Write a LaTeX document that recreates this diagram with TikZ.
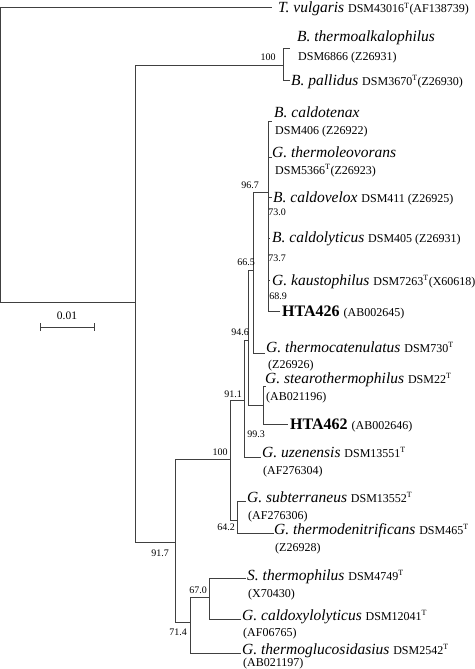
\documentclass[tikz,border=0pt]{standalone}
\usepackage{fontspec}
\setmainfont{Liberation Serif}
\usetikzlibrary{arrows.meta}
\newcommand\Tsup{\textsuperscript{T}}
\newcommand\acc[1]{{\upshape\mdseries\fontsize{12}{14}\selectfont #1}}
\begin{document}
\begin{tikzpicture}[x=1pt,y=-1pt,
  br/.style={draw=black!75,line width=0.9pt},
  sp/.style={anchor=base west,inner sep=0pt,font=\fontsize{15.5}{18}\selectfont\itshape},
  ac/.style={anchor=base west,inner sep=0pt,font=\fontsize{12}{14}\selectfont},
  hta/.style={anchor=base west,inner sep=0pt,font=\fontsize{16}{18}\selectfont\bfseries},
  bs/.style={anchor=center,inner sep=0pt,font=\fontsize{10}{12}\selectfont},
]
\useasboundingbox (0,0) rectangle (474,669);
% internal nodes
\coordinate (R) at (0.5,7);
\coordinate (A) at (135,302);
\coordinate (B100) at (283,65);
\coordinate (N917) at (175,542);
\coordinate (N100b) at (230,459);
\coordinate (N911) at (244,400);
\coordinate (N946) at (248,340);
\coordinate (N665) at (253,270);
\coordinate (N967) at (268,192);
\coordinate (N993) at (263,405);
\coordinate (N642) at (237,520);
\coordinate (N714) at (190,622);
\coordinate (N670) at (209,597);
% tips
\coordinate (tTv) at (272,7);
\coordinate (tBth) at (290,48);
\coordinate (tBpa) at (290,80);
\coordinate (tBct) at (272,121);
\coordinate (tGtl) at (272,157);
\coordinate (tBcv) at (272,197);
\coordinate (tBcl) at (270,238);
\coordinate (tGka) at (270,280);
\coordinate (tH426) at (280,311);
\coordinate (tGtc) at (265,353);
\coordinate (tGst) at (266,386);
\coordinate (tH462) at (288,424);
\coordinate (tGuz) at (261,457);
\coordinate (tGsu) at (246,501);
\coordinate (tGtd) at (274,533);
\coordinate (tSth) at (246,578);
\coordinate (tGcx) at (241,619);
\coordinate (tGtg) at (241,653);
% branches
\draw[br] (R) |- (tTv);
\draw[br] (R) |- (A);
\draw[br] (A) |- (B100);
\draw[br] (A) |- (N917);
\draw[br] (B100) |- (tBth);
\draw[br] (B100) |- (tBpa);
\draw[br] (N917) |- (N100b);
\draw[br] (N917) |- (N714);
\draw[br] (N100b) |- (N911);
\draw[br] (N100b) |- (N642);
\draw[br] (N911) |- (N946);
\draw[br] (N911) |- (tGuz);
\draw[br] (N946) |- (N665);
\draw[br] (N946) |- (N993);
\draw[br] (N665) |- (N967);
\draw[br] (N665) |- (tGtc);
\draw[br] (N967) |- (tBct);
\draw[br] (N967) |- (tGtl);
\draw[br] (N967) |- (tBcv);
\draw[br] (N967) |- (tBcl);
\draw[br] (N967) |- (tGka);
\draw[br] (N967) |- (tH426);
\draw[br] (N993) |- (tGst);
\draw[br] (N993) |- (tH462);
\draw[br] (N642) |- (tGsu);
\draw[br] (N642) |- (tGtd);
\draw[br] (N714) |- (N670);
\draw[br] (N714) |- (tGtg);
\draw[br] (N670) |- (tSth);
\draw[br] (N670) |- (tGcx);
% leaf labels
\node[sp] (Tv) at (278,13) {T. vulgaris \acc{DSM43016\Tsup(AF138739)}};
\node[sp] (Bth) at (297,42) {B. thermoalkalophilus};
\node[ac] (Bth2) at (298,61) {DSM6866 (Z26931)};
\node[sp] (Bpa) at (291,85) {B. pallidus \acc{DSM3670\Tsup(Z26930)}};
\node[sp] (Bct) at (274,117) {B. caldotenax};
\node[ac] (Bct2) at (275,134) {DSM406 (Z26922)};
\node[sp] (Gtl) at (272,157) {G. thermoleovorans};
\node[ac] (Gtl2) at (275,174) {DSM5366\Tsup(Z26923)};
\node[sp] (Bcv) at (273,202) {B. caldovelox \acc{DSM411 (Z26925)}};
\node[sp] (Bcl) at (272,242) {B. caldolyticus \acc{DSM405 (Z26931)}};
\node[sp] (Gka) at (272,285) {G. kaustophilus \acc{DSM7263\Tsup(X60618)}};
\node[hta] (H426) at (282,316) {HTA426 \acc{(AB002645)}};
\node[sp] (Gtc) at (266,352) {G. thermocatenulatus \acc{DSM730\Tsup}};
\node[ac] (Gtc2) at (268,368) {(Z26926)};
\node[sp] (Gst) at (265,383) {G. stearothermophilus \acc{DSM22\Tsup}};
\node[ac] (Gst2) at (266,400) {(AB021196)};
\node[hta] (H462) at (290,429) {HTA462 \acc{(AB002646)}};
\node[sp] (Guz) at (262,457) {G. uzenensis \acc{DSM13551\Tsup}};
\node[ac] (Guz2) at (263,474) {(AF276304)};
\node[sp] (Gsu) at (247,502) {G. subterraneus \acc{DSM13552\Tsup}};
\node[ac] (Gsu2) at (248,519) {(AF276306)};
\node[sp] (Gtd) at (274,534) {G. thermodenitrificans \acc{DSM465\Tsup}};
\node[ac] (Gtd2) at (275,551) {(Z26928)};
\node[sp] (Sth) at (247,580) {S. thermophilus \acc{DSM4749\Tsup}};
\node[ac] (Sth2) at (248,597) {(X70430)};
\node[sp] (Gcx) at (242,620) {G. caldoxylolyticus \acc{DSM12041\Tsup}};
\node[ac] (Gcx2) at (243,636) {(AF06765)};
\node[sp] (Gtg) at (242,654) {G. thermoglucosidasius \acc{DSM2542\Tsup}};
\node[ac] (Gtg2) at (243,666) {(AB021197)};
% bootstrap values
\node[bs] (b1) at (268,57) {100};
\node[bs] (b2) at (250,185) {96.7};
\node[bs] (b3) at (277,212) {73.0};
\node[bs] (b4) at (277,258) {73.7};
\node[bs] (b5) at (246,262) {66.5};
\node[bs] (b6) at (278,296) {68.9};
\node[bs] (b7) at (240,332) {94.6};
\node[bs] (b8) at (233,394) {91.1};
\node[bs] (b9) at (256,434) {99.3};
\node[bs] (b10) at (220,452) {100};
\node[bs] (b11) at (226,527) {64.2};
\node[bs] (b12) at (160,553) {91.7};
\node[bs] (b13) at (198,590) {67.0};
\node[bs] (b14) at (178,632) {71.4};
% scale bar
\coordinate (sbL) at (40,327);
\coordinate (sbR) at (95,327);
\draw[br,{Bar[width=8pt]}-{Bar[width=8pt]}] (sbL) -- (sbR);
\node[anchor=center,inner sep=0pt,font=\fontsize{11.5}{13}\selectfont] (sbl) at (67,316) {0.01};
\end{tikzpicture}
\end{document}
